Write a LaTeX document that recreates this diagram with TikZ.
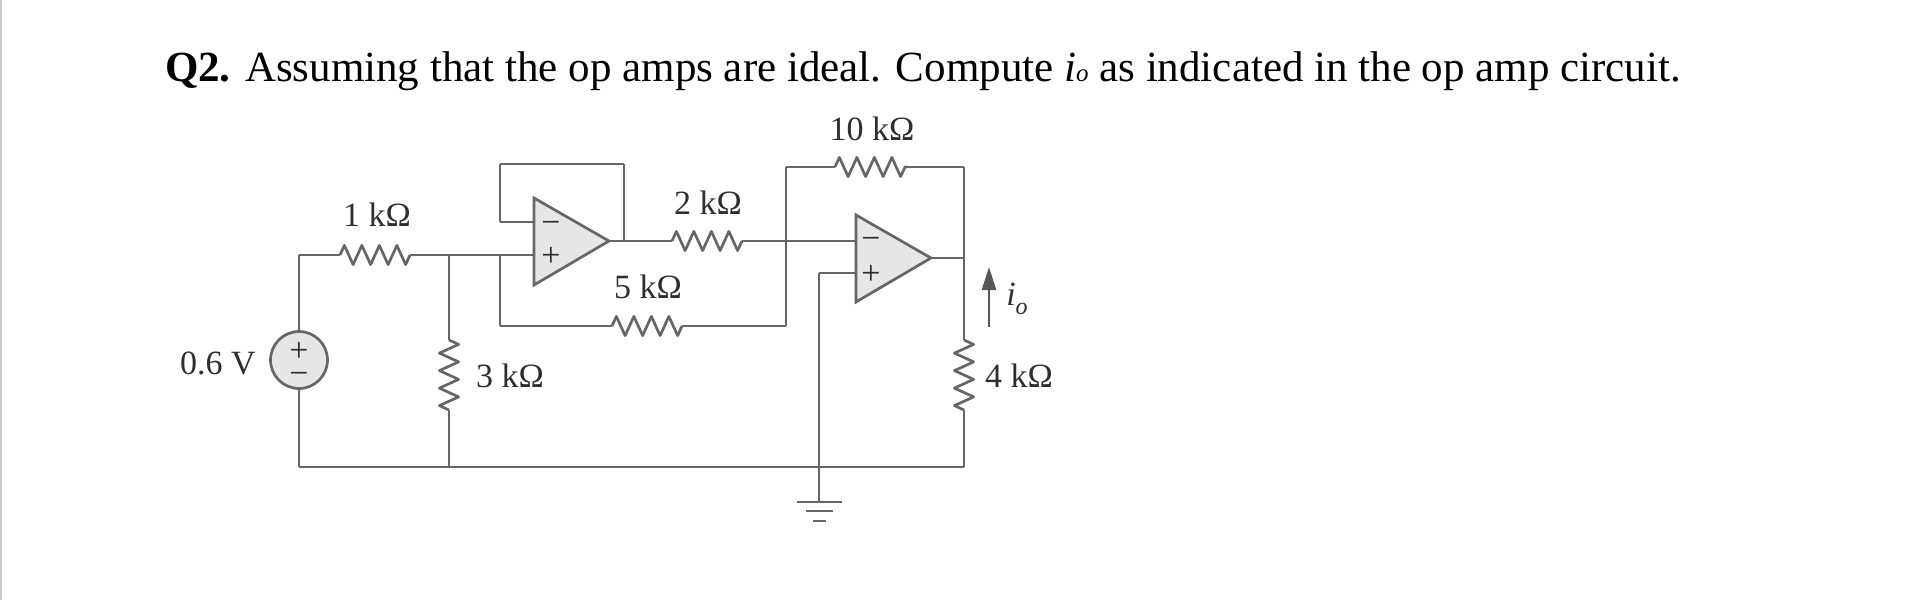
\documentclass[tikz,border=0pt]{standalone}
\usepackage{fontspec}
\setmainfont{Liberation Serif}
\usetikzlibrary{decorations.pathmorphing,arrows.meta}
\definecolor{wiregray}{HTML}{666666}
\definecolor{ampgray}{HTML}{E6E6E6}
\definecolor{labelgray}{HTML}{2E2E2E}
\begin{document}
\begin{tikzpicture}
[x=0.5pt,y=-0.5pt,
  wiredecorate/.style={-,draw=wiregray,line width=1.35pt,line join=miter},
  resdecorate/.style={wiredecorate,line join=round,decorate,decoration={zigzag,amplitude=4.8pt,segment length=8.75pt}},
  ampdecorate/.style={wiredecorate,fill=ampgray},
  srcdecorate/.style={shape=circle,draw=wiregray,line width=1.35pt,fill=ampgray,inner sep=0pt,minimum size=28.5pt},
  signdecorate/.style={text=labelgray,inner sep=0pt,text height=11pt,text depth=0pt,font=\fontsize{17pt}{18pt}\selectfont},
  valuedecorate/.style={text=labelgray,inner sep=0pt,font=\fontsize{17pt}{18pt}\selectfont}]
\useasboundingbox (0,0) rectangle (1924,600);
\fill[black!20] (0,0) rectangle (2,600);
%% title
\node (title) at (923,71) [inner sep=0pt,font=\fontsize{21.5pt}{23pt}\selectfont]
  {\textbf{Q2.} Assuming that the op amps are ideal. Compute \textit{i}{\itshape\fontsize{12.5pt}{13pt}\selectfont o} as indicated in the op amp circuit.};
%% wire corners and resistor ends
\foreach \nodename/\x/\y in {srctop/299/255, srcbot/299/467, ra1/340/255, ra2/410/255, top/449/255,
  rc1/449/340, rc2/449/410, bot/449/467, fbnode/500/255, plusa/534/255, minusa/534/222, fba/500/222,
  fbb/500/164, fbc/624/164, outa/609/241, taba/624/241, rb1/672/241, rb2/742/241, cross/786/241,
  minusb/856/241, rd1/612/326, rd2/682/326, lowa/500/326, lowb/786/326, highb/786/167, re1/835/167,
  re2/907/167, highc/964/167, outb/931/258, tabb/964/258, rf1/964/340, rf2/964/410, botr/964/467,
  plusb/856/273, gndc/819/273, gndj/819/467, gnd/819/502, gnda1/797/502, gnda2/842/502,
  gndb1/806/511, gndb2/833/511, gndd1/813/521, gndd2/826/521, ampa1/534/198, ampa2/534/285,
  ampb1/856/215, ampb2/856/302, arrowlow/989/327, arrowhigh/989/267} {
  \coordinate (\nodename) at (\x,\y);
}
%% edges or lines
\path
\foreach \startnode/\endnode in {srctop/ra1, ra2/top, top/fbnode, fbnode/plusa, fbnode/lowa, lowa/rd1,
  rd2/lowb, lowb/highb, highb/re1, re2/highc, highc/tabb, tabb/rf1, rf2/botr, botr/bot, bot/srcbot,
  top/rc1, rc2/bot, minusa/fba, fba/fbb, fbb/fbc, fbc/taba, outa/rb1, rb2/minusb, outb/tabb,
  plusb/gndc, gndc/gnd, gnda1/gnda2, gndb1/gndb2, gndd1/gndd2} {
  (\startnode) edge[wiredecorate] (\endnode)
};
%% resistors
\path
\foreach \startnode/\endnode in {ra1/ra2, rb1/rb2, rd1/rd2, re1/re2, rc1/rc2, rf1/rf2} {
  (\startnode) edge[resdecorate] (\endnode)
};
%% source and amps
\node (src) at (299,360) [srcdecorate] {};
\draw (srctop) edge[wiredecorate] (src.north) (src.south) edge[wiredecorate] (srcbot);
\draw[ampdecorate] (ampa1) -- (outa) -- (ampa2) -- cycle;
\draw[ampdecorate] (ampb1) -- (outb) -- (ampb2) -- cycle;
\foreach \nodename/\x/\y/\sign in {srcp/299/350/+, srcm/299/373/−, ampap/551/255/+, ampam/551/222/−,
  ampbp/871/273/+, ampbm/871/238/−} {
  \node (\nodename) at (\x,\y) [signdecorate] {\sign};
}
%% current arrow
\draw[wiredecorate,draw=wiregray!85!black,-{Triangle[length=11.5pt,width=7pt]}] (arrowlow) -- (arrowhigh);
%% values
\foreach \nodename/\x/\y/\val in {vala/377/215/1 kΩ, valb/708/203/2 kΩ, valc/510/376/3 kΩ,
  vald/648/287/5 kΩ, vale/872/129/10 kΩ, valf/1019/376/4 kΩ, valsrc/218/363/0.6 V} {
  \node (\nodename) at (\x,\y) [valuedecorate] {\val};
}
\node (io) at (1017,299) [valuedecorate] {\itshape i\raisebox{-.28em}{\fontsize{12pt}{13pt}\selectfont o}};
\end{tikzpicture}
\end{document}
